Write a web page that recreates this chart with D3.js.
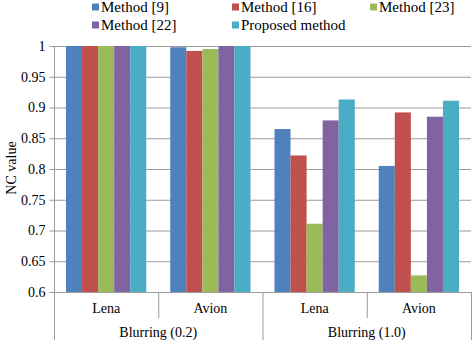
<!DOCTYPE html>
<html><head><meta charset="utf-8">
<script src="https://cdn.jsdelivr.net/npm/d3@7"></script>
<style>body{margin:0;background:#fff;}svg, svg text{font-family:"Liberation Serif","Times New Roman","DejaVu Serif",serif !important;}</style>
</head><body><svg id="c" width="474" height="344"></svg>
<script>
const categories = ["Lena","Avion","Lena","Avion"];
const groups = ["Blurring (0.2)","Blurring (1.0)"];
const seriesNames = ["Method [9]","Method [16]","Method [23]","Method [22]","Proposed method"];
const method9 = [1, 0.998, 0.865, 0.805];
const method16 = [1, 0.992, 0.822, 0.892];
const method23 = [1, 0.995, 0.711, 0.627];
const method22 = [1, 1, 0.879, 0.885];
const proposed = [1, 1, 0.913, 0.911];
const yTicks = [0.6,0.65,0.7,0.75,0.8,0.85,0.9,0.95,1];
const colors = ["#4F81BD","#C0504D","#9BBB59","#8064A2","#4BACC6"];

const series = [method9, method16, method23, method22, proposed];
const svg = d3.select("#c");
const L = 54, R = 471, T = 46, B = 292;
const y = d3.scaleLinear().domain([0.6,1]).range([B,T]);
const x0 = d3.scaleBand().domain(d3.range(categories.length)).range([L,R]).paddingInner(0.23).paddingOuter(0.115);
const x1 = d3.scaleBand().domain(d3.range(series.length)).range([0,x0.bandwidth()]);
const grid = "#9a9a9a";

svg.append("g").selectAll("line").data(yTicks.slice(1)).join("line")
  .attr("x1",L).attr("x2",R).attr("y1",d=>y(d)+0.5).attr("y2",d=>y(d)+0.5)
  .attr("stroke",grid).attr("stroke-width",1);

series.forEach((s,i)=>{
  svg.append("g").selectAll("rect").data(s).join("rect")
    .attr("x",(d,j)=>x0(j)+x1(i)).attr("width",x1.bandwidth())
    .attr("y",d=>y(d)).attr("height",d=>B-y(d)).attr("fill",colors[i]);
});

const yAxis = d3.axisLeft(y).tickValues(yTicks).tickFormat(d=>String(+d.toFixed(2))).tickSize(5).tickPadding(4);
const ga = svg.append("g").attr("transform",`translate(${L+0.5},0)`).call(yAxis);
ga.attr("font-family",null).attr("font-size",null);
ga.select(".domain").remove();
ga.selectAll("line").attr("stroke",grid);
ga.selectAll("text").attr("font-size",14).attr("fill","#000");
svg.append("line").attr("x1",L+0.5).attr("x2",L+0.5).attr("y1",T).attr("y2",340).attr("stroke",grid);

svg.append("line").attr("x1",L).attr("x2",R).attr("y1",B+0.5).attr("y2",B+0.5).attr("stroke",grid);
const step = (R-L)/categories.length;
[1,3].forEach(k=>{
  svg.append("line").attr("x1",L+k*step+0.5).attr("x2",L+k*step+0.5).attr("y1",B).attr("y2",318).attr("stroke",grid);
});
[2,4].forEach(k=>{
  svg.append("line").attr("x1",L+k*step+0.5).attr("x2",L+k*step+0.5).attr("y1",B).attr("y2",340).attr("stroke",grid);
});
svg.append("g").selectAll("text").data(categories).join("text")
  .attr("x",(d,j)=>L+(j+0.5)*step).attr("y",313).attr("text-anchor","middle")
  .attr("font-size",14).text(d=>d);
svg.append("g").selectAll("text").data(groups).join("text")
  .attr("x",(d,j)=>L+(2*j+1)*step).attr("y",337).attr("text-anchor","middle")
  .attr("font-size",14).text(d=>d);

svg.append("text").attr("transform","translate(16,168) rotate(-90)").attr("text-anchor","middle")
  .attr("font-size",14).text("NC value");

const lpos = [[92,7],[232,7],[370,7],[92,25],[232,25]];
seriesNames.forEach((n,i)=>{
  const g = svg.append("g").attr("transform",`translate(${lpos[i][0]},${lpos[i][1]})`);
  g.append("rect").attr("x",0).attr("y",-3.5).attr("width",7).attr("height",7).attr("fill",colors[i]);
  g.append("text").attr("x",9).attr("y",5).attr("font-size",15).text(n);
});
</script></body></html>
